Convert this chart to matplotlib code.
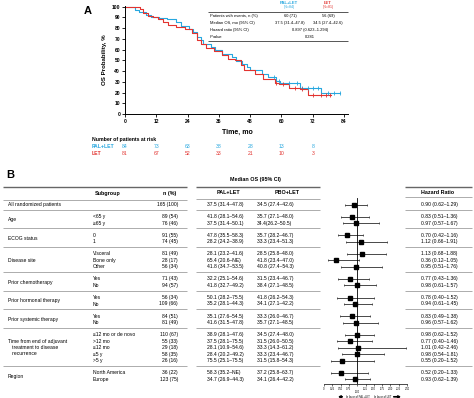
import matplotlib
matplotlib.use("Agg")
import matplotlib.pyplot as plt
import matplotlib.transforms as mtransforms
import numpy as np

plt.rcParams['font.family'] = ['Liberation Sans', 'DejaVu Sans']

# colours
blue = '#27a7df'
red = '#e2332f'

# ---- Panel A data (Kaplan-Meier) ----
palTimes = [0, 4, 5.5, 8, 10, 13, 16, 19.5, 21.5, 24.5, 26, 27.5, 29, 30, 33, 34.5, 37, 41,
            42.5, 45, 46.7, 48, 52.4, 55, 58, 59.4, 67, 75, 82.5]
palSurv = [100, 97, 94.5, 92, 90.5, 89.5, 88, 85.5, 82, 79, 76, 71.5, 68.5, 65.5, 62.5, 60, 56, 53,
           49.5, 46.5, 44, 41, 37, 34, 31, 29, 24.5, 19.5, 19.5]
letTimes = [0, 5.75, 7, 8.8, 10.7, 12.7, 14.6, 16.5, 19.7, 23, 25.5, 27.6, 29, 31, 34, 37, 39.6,
            42, 44.5, 45.5, 50, 53, 57.5, 59, 63, 67, 70, 79]
letSurv = [100, 98, 94, 91.5, 90, 88.5, 85.5, 82.5, 81, 79, 75, 69, 65.5, 61, 59, 54.5, 51.5,
           50, 45.5, 41, 37, 33, 28.5, 28, 24.5, 23, 17.5, 17.5]
palCensor = [57, 59, 63, 66, 68, 70, 72, 74, 78, 80, 82.5]
letCensor = [58, 60.5, 65, 68, 72, 75, 77, 78.5]

riskTimes = [0, 12, 24, 36, 48, 60, 72]
palRisk = [84, 73, 63, 38, 28, 13, 8]
letRisk = [81, 67, 52, 33, 21, 10, 3]

kmRows = ['Patients with events, n (%)', 'Median OS, mo (95% CI)', 'Hazard ratio (95% CI)', 'P value']
kmPal = ['60 (71)', '37.5 (31.4\u201347.8)']
kmLet = ['56 (69)', '34.5 (27.4\u201342.6)']
kmHR = '0.897 (0.623\u20131.294)'
kmP = '0.281'

# ---- Panel B data (forest plot) ----
groups = ['All randomized patients', 'Age', 'ECOG status', 'Disease site', 'Prior chemotherapy',
          'Prior hormonal therapy', 'Prior systemic therapy',
          'Time from end of adjuvant\n   treatment to disease\n   recurrence', 'Region']
subgroups = [[''], ['<65 y', '\u226565 y'], ['0', '1'], ['Visceral', 'Bone only', 'Other'],
             ['Yes', 'No'], ['Yes', 'No'], ['Yes', 'No'],
             ['\u226412 mo or de novo', '>12 mo', '\u226412 mo', '\u22645 y', '>5 y'],
             ['North America', 'Europe']]
nPct = ['165 (100)', '89 (54)', '76 (46)', '91 (55)', '74 (45)', '81 (49)', '28 (17)', '56 (34)',
        '71 (43)', '94 (57)', '56 (34)', '109 (66)', '84 (51)', '81 (49)',
        '110 (67)', '55 (33)', '29 (18)', '58 (35)', '26 (16)', '36 (22)', '123 (75)']
palMed = ['37.5 (31.4\u201347.8)', '41.8 (28.1\u201354.6)', '37.5 (31.4\u201350.1)',
          '47.8 (35.5\u201358.3)', '28.2 (24.2\u201338.9)', '28.1 (23.2\u201341.6)',
          '65.4 (20.6\u2013NE)', '41.8 (34.7\u201353.5)', '32.2 (25.1\u201354.6)',
          '41.8 (32.7\u201349.2)', '50.1 (28.2\u201375.5)', '35.2 (28.1\u201344.3)',
          '35.1 (27.6\u201354.5)', '41.6 (31.5\u201347.8)', '38.9 (28.1\u201347.6)',
          '37.5 (28.1\u201375.5)', '28.1 (10.9\u201354.6)', '28.4 (20.2\u201349.2)',
          '75.5 (25.1\u201375.5)', '58.3 (35.2\u2013NE)', '34.7 (26.9\u201344.3)']
pboMed = ['34.5 (27.4\u201342.6)', '35.7 (27.1\u201348.0)', '34.4(26.2\u201350.5)',
          '35.7 (28.2\u201346.7)', '33.3 (23.4\u201351.3)', '28.5 (25.8\u201348.0)',
          '41.8 (23.4\u201347.0)', '40.8 (27.4\u201354.3)', '31.5 (23.4\u201346.7)',
          '38.4 (27.1\u201348.5)', '41.8 (26.2\u201354.3)', '34.1 (27.1\u201342.2)',
          '33.3 (26.0\u201346.7)', '35.7 (27.1\u201348.5)', '34.5 (27.4\u201348.0)',
          '31.5 (26.0\u201350.5)', '33.3 (14.3\u201361.2)', '33.3 (23.4\u201346.7)',
          '31.5 (15.8\u201354.3)', '37.2 (25.8\u201363.7)', '34.1 (26.4\u201342.2)']
hr = [0.90, 0.83, 0.97, 0.70, 1.12, 1.13, 0.36, 0.95, 0.77, 0.98, 0.78, 0.94, 0.83, 0.96,
      0.98, 0.77, 1.01, 0.98, 0.55, 0.52, 0.93]
hrLow = [0.62, 0.51, 0.57, 0.42, 0.66, 0.68, 0.12, 0.51, 0.43, 0.61, 0.40, 0.61, 0.49, 0.57,
         0.62, 0.40, 0.42, 0.54, 0.20, 0.20, 0.62]
hrHigh = [1.29, 1.36, 1.67, 1.16, 1.91, 1.88, 1.05, 1.76, 1.36, 1.57, 1.52, 1.45, 1.38, 1.62,
          1.52, 1.46, 2.46, 1.81, 1.52, 1.33, 1.39]

W, H = 474, 398
fig = plt.figure(figsize=(W / 100, H / 100), dpi=100)

# full-figure axis in pixel units for the table text / lines
tb = fig.add_axes([0, 0, 1, 1])
tb.set_xlim(0, W)
tb.set_ylim(H, 0)
tb.axis('off')


def T(x, y, s, **kw):
    kw.setdefault('fontsize', 3.6)
    kw.setdefault('va', 'center')
    tb.text(x, y, s, **kw)


def hline(x0, x1, y, lw=0.5, c='#8c8c8c'):
    tb.plot([x0, x1], [y, y], color=c, lw=lw, solid_capstyle='butt')


# ================= Panel A =================
ax = fig.add_axes([125 / W, 1 - 114 / H, (348 - 125) / W, (114 - 5.5) / H])
ax.patch.set_visible(False)
ax.step(palTimes, palSurv, where='post', color=blue, lw=0.8)
ax.step(letTimes, letSurv, where='post', color=red, lw=0.8)


def survAt(times, surv, t):
    i = np.searchsorted(times, t, side='right') - 1
    return surv[i]


ax.plot(palCensor, [survAt(palTimes, palSurv, t) for t in palCensor], ls='none',
        marker='|', ms=2.5, mew=0.6, color=blue)
ax.plot(letCensor, [survAt(letTimes, letSurv, t) for t in letCensor], ls='none',
        marker='|', ms=2.5, mew=0.6, color=red)
ax.set_xlim(0, 85.5)
ax.set_ylim(0, 101)
ax.set_xticks(riskTimes + [84])
ax.set_yticks(range(0, 101, 10))
ax.spines[['top', 'right']].set_visible(False)
for s in ['left', 'bottom']:
    ax.spines[s].set_linewidth(0.7)
ax.tick_params(labelsize=3.6, length=2, width=0.6, pad=1.5)
for lab in ax.get_xticklabels() + ax.get_yticklabels():
    lab.set_fontweight('bold')
ax.set_ylabel('OS Probability, %', fontsize=4.4, fontweight='bold', labelpad=3)
T(237, 132, 'Time, mo', fontsize=5, fontweight='bold', ha='center')
T(88, 11, 'A', fontsize=8, fontweight='bold', ha='center')

# number at risk
bt = mtransforms.blended_transform_factory(ax.transData, tb.transData)
T(92, 139.5, 'Number of patients at risk', fontsize=3.7, fontweight='bold')
T(92, 146.5, 'PAL+LET', fontsize=3.7, fontweight='bold', color=blue)
T(92, 153.5, 'LET', fontsize=3.7, fontweight='bold', color=red)
for t, a, b in zip(riskTimes, palRisk, letRisk):
    tb.text(t, 146.5, str(a), transform=bt, fontsize=3.7, color=blue, ha='center', va='center')
    tb.text(t, 153.5, str(b), transform=bt, fontsize=3.7, color=red, ha='center', va='center')

# summary table inside panel A
T(289, 2.5, 'PAL+LET', fontsize=3, fontweight='bold', color=blue, ha='center')
T(289, 6.6, '(N=84)', fontsize=2.6, color=blue, ha='center')
T(328, 2.5, 'LET', fontsize=3, fontweight='bold', color=red, ha='center')
T(328, 6.6, '(N=81)', fontsize=2.6, color=red, ha='center')
hline(208, 348, 12.3, lw=0.7, c='#555555')
kmY = [16.5, 23.2, 30, 36.5]
for yy, lab in zip(kmY, kmRows):
    if lab.startswith('P '):
        T(210, yy, 'P', fontsize=2.9, style='italic')
        T(212.5, yy, 'value', fontsize=2.9)
    else:
        T(210, yy, lab, fontsize=2.9)
for yy, a, b in zip(kmY[:2], kmPal, kmLet):
    T(290, yy, a, fontsize=2.9, ha='center')
    T(328, yy, b, fontsize=2.9, ha='center')
T(310, kmY[2], kmHR, fontsize=2.9, ha='center')
T(310, kmY[3], kmP, fontsize=2.9, ha='center')
hline(208, 348, 40.7, lw=0.7, c='#555555')

# ================= Panel B =================
T(10, 175, 'B', fontsize=8, fontweight='bold', ha='center')
T(255, 180, 'Median OS (95% CI)', fontsize=3.9, fontweight='bold', ha='center')
for x0, x1 in [(3, 187), (196, 320), (405, 472)]:
    hline(x0, x1, 187, lw=1.0, c='#666666')
T(108, 193, 'Subgroup', fontsize=3.9, fontweight='bold', ha='center')
T(170, 193, 'n (%)', fontsize=3.9, fontweight='bold', ha='center')
T(228, 193, 'PAL+LET', fontsize=3.9, fontweight='bold', ha='center')
T(287, 193, 'PBO+LET', fontsize=3.9, fontweight='bold', ha='center')
T(438, 192.5, 'Hazard Ratio', fontsize=3.9, fontweight='bold', ha='center')
hline(3, 187, 199.5)
hline(196, 320, 198.5)
hline(405, 472, 197)

# row positions
step, gap = 6.5, 5.6
rowY = []
sepY = []
y = 204.5
for gi, subs in enumerate(subgroups):
    ys = []
    for s in subs:
        ys.append(y)
        y += step
    rowY.extend(ys)
    y += gap
    if gi < len(subgroups) - 1:
        sepY.append(ys[-1] + (step + gap) / 2 - 0.8)
    T(8, np.mean(ys), groups[gi], linespacing=1.25)
    for yy, s in zip(ys, subs):
        T(93, yy, s)
for yy in sepY:
    hline(3, 187, yy)
    hline(196, 320, yy)
    hline(405, 472, yy)

for yy, a, b, c in zip(rowY, nPct, palMed, pboMed):
    T(178, yy, a, ha='right')
    T(207, yy, b)
    T(257, yy, c)
for yy, h, lo, hi in zip(rowY, hr, hrLow, hrHigh):
    T(439, yy, '%.2f (%.2f\u2013%.2f)' % (h, lo, hi), ha='center')

# forest axis
fx = fig.add_axes([324 / W, 1 - 384 / H, (407 - 324) / W, (384 - 198) / H])
fx.set_xlim(0, 2.5)
fx.set_ylim(384, 198)
fx.patch.set_visible(False)
fx.axvline(1.0, color='black', lw=0.6)
fx.hlines(rowY, hrLow, hrHigh, color='black', lw=0.5)
fx.plot(hrLow, rowY, ls='none', marker='|', ms=1.5, mew=0.4, color='black')
fx.plot(hrHigh, rowY, ls='none', marker='|', ms=1.5, mew=0.4, color='black')
fx.plot(hr, rowY, ls='none', marker='s', ms=2.6, color='black')
fx.spines[['top', 'right', 'left']].set_visible(False)
fx.spines['bottom'].set_linewidth(0.5)
xt = np.arange(0, 2.51, 0.25)
fx.set_xticks(xt)
fx.set_xticklabels(['' if abs(v - 1) < 1e-9 else ('0' if v == 0 else '%.2f' % v) for v in xt])
fx.set_yticks([])
fx.tick_params(axis='x', labelsize=1.9, length=1.2, width=0.4, pad=0.6)
fx.text(1.0, -0.032, '1.00', transform=fx.get_xaxis_transform(), fontsize=1.9,
        ha='center', va='top')

# favour arrows
ya = 396.8
tb.annotate('', xy=(335, ya), xytext=(345, ya),
            arrowprops=dict(arrowstyle='-|>', color='black', lw=1.2, mutation_scale=3))
T(346, ya, 'In favor of PAL+LET', fontsize=1.9)
T(374, ya, 'In favor of LET', fontsize=1.9)
tb.annotate('', xy=(404, ya), xytext=(391, ya),
            arrowprops=dict(arrowstyle='-|>', color='black', lw=1.2, mutation_scale=3))

fig.savefig('out.png', dpi=100)
